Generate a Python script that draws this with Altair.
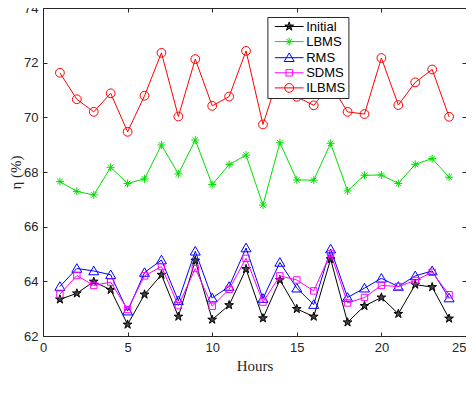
import altair as alt
import pandas as pd

hours = list(range(1, 25))
series_names = ["Initial", "LBMS", "RMS", "SDMS", "ILBMS"]
initial = [63.34, 63.56, 63.99, 63.69, 62.42, 63.52, 64.24, 62.71, 64.76, 62.60, 63.13, 64.45,
           62.65, 64.05, 62.99, 62.71, 64.81, 62.50, 63.10, 63.41, 62.81, 63.88, 63.79, 62.64]
lbms = [67.65, 67.29, 67.16, 68.17, 67.58, 67.75, 68.99, 67.93, 69.17, 67.54, 68.27, 68.62,
        66.79, 69.07, 67.71, 67.70, 69.05, 67.31, 67.88, 67.89, 67.58, 68.28, 68.49, 67.81]
rms = [63.81, 64.47, 64.38, 64.24, 62.91, 64.32, 64.78, 63.29, 65.10, 63.39, 63.81, 65.22,
       63.37, 64.69, 63.75, 63.15, 65.18, 63.41, 63.75, 64.11, 63.81, 64.20, 64.38, 63.39]
sdms = [63.53, 64.21, 63.85, 63.97, 62.97, 64.20, 64.54, 63.11, 64.47, 63.09, 63.71, 64.84,
        63.24, 64.20, 64.05, 63.65, 65.02, 63.21, 63.41, 63.85, 63.81, 64.03, 64.33, 63.51]
ilbms = [71.63, 70.66, 70.20, 70.88, 69.47, 70.79, 72.36, 70.03, 72.13, 70.42, 70.76, 72.43,
         69.74, 71.65, 70.75, 70.44, 71.20, 70.20, 70.12, 72.17, 70.45, 71.28, 71.75, 70.02]
x_ticks = [0, 5, 10, 15, 20, 25]
y_ticks = [62, 64, 66, 68, 70, 72, 74]

colors = ["#000000", "#00e000", "#0000ff", "#ff00ff", "#ff0000"]
fills = ["#444444", "transparent", "transparent", "transparent", "transparent"]

star = ("M0,-1.15L0.258,-0.355L1.094,-0.355L0.418,0.136L0.676,0.930L0,0.439"
        "L-0.676,0.930L-0.418,0.136L-1.094,-0.355L-0.258,-0.355Z")
aster = "M0,-1L0,1M-1,0L1,0M-0.7,-0.7L0.7,0.7M-0.7,0.7L0.7,-0.7"
tri = "M0,-1.2L1.25,0.95L-1.25,0.95Z"
sq = "M-0.8,-0.8L0.8,-0.8L0.8,0.8L-0.8,0.8Z"
circ = "M-1.1,0A1.1,1.1,0,1,1,1.1,0A1.1,1.1,0,1,1,-1.1,0Z"
markers = [star, aster, tri, sq, circ]
seg = "M-3.6,0L3.6,0"
legend_markers = [seg + m for m in markers]

rows = []
for name, vals in zip(series_names, [initial, lbms, rms, sdms, ilbms]):
    for h, v in zip(hours, vals):
        rows.append({"Hours": h, "eta": v, "series": name})
df = pd.DataFrame(rows)

x_scale = alt.Scale(domain=[0, 25], nice=False, zero=False)
y_scale = alt.Scale(domain=[62, 74], nice=False, zero=False)
color_scale = alt.Scale(domain=series_names, range=colors)
fill_scale = alt.Scale(domain=series_names, range=fills)
shape_scale = alt.Scale(domain=series_names, range=legend_markers)

tick_font = "Liberation Sans"
common_axis = dict(domain=False, grid=False, ticks=True, tickSize=4, offset=-4,
                   tickColor="#262626", tickWidth=1, labelFont=tick_font,
                   labelFontSize=13, labelColor="#262626", labelFlush=False,
                   labelOverlap=False)

axis_bottom = alt.Axis(orient="bottom", values=x_ticks, title="Hours",
                       labelPadding=5, titleFont="Liberation Serif", titleFontSize=15,
                       titleFontWeight="normal", titleColor="#262626", titlePadding=4,
                       labelAlign={"condition": {"test": "datum.value == 25", "value": "right"},
                                   "value": "center"},
                       **common_axis)
axis_left = alt.Axis(orient="left", values=y_ticks, title="η (%)",
                     labelPadding=5, titleFont="Liberation Serif", titleFontSize=15,
                     titleFontWeight="normal", titleColor="#262626", titlePadding=0,
                     **common_axis)
axis_top = alt.Axis(orient="top", values=x_ticks, title=None, labels=False, **common_axis)
axis_right = alt.Axis(orient="right", values=y_ticks, title=None, labels=False, **common_axis)

base = alt.Chart(df)

layers = []
for i, name in enumerate(series_names):
    sub = base.transform_filter(alt.datum.series == name)
    line = sub.mark_line(stroke=colors[i], strokeWidth=1).encode(
        x=alt.X("Hours:Q", scale=x_scale, axis=axis_bottom if i == 0 else None),
        y=alt.Y("eta:Q", scale=y_scale, axis=axis_left if i == 0 else None),
        order=alt.Order("Hours:Q"),
    )
    pts = sub.mark_point(
        shape=markers[i], size=64, filled=False, stroke=colors[i], fill=fills[i],
        strokeWidth=1, opacity=1,
    ).encode(
        x=alt.X("Hours:Q", scale=x_scale, axis=axis_top if i == 0 else None),
        y=alt.Y("eta:Q", scale=y_scale, axis=axis_right if i == 0 else None),
    )
    layers += [line, pts]

legend_layer = base.transform_filter("false").mark_point(
    filled=False, size=64, strokeWidth=1, opacity=1).encode(
    x=alt.X("Hours:Q", scale=x_scale, axis=None),
    y=alt.Y("eta:Q", scale=y_scale, axis=None),
    color=alt.Color("series:N", scale=color_scale, title=None),
    fill=alt.Fill("series:N", scale=fill_scale, title=None),
    shape=alt.Shape("series:N", scale=shape_scale, title=None),
)

chart = alt.layer(*layers, legend_layer).properties(
    width=423, height=328,
    autosize=alt.AutoSizeParams(type="none"),
    padding={"left": 35, "top": 0, "right": 0, "bottom": 50},
).resolve_axis(
    x="independent", y="independent"
).configure_view(
    stroke="#262626", strokeWidth=1
).configure_legend(
    orient="none", legendX=224.4, legendY=9,
    strokeColor="#262626", fillColor="white", padding=3, cornerRadius=0,
    symbolOffset=12.3, labelOffset=10.5, labelFont=tick_font, labelFontSize=13,
    labelColor="black", rowPadding=1.1, symbolSize=64, symbolStrokeWidth=1,
)

chart.save("out.html", embed_options={"renderer": "svg", "actions": False})
